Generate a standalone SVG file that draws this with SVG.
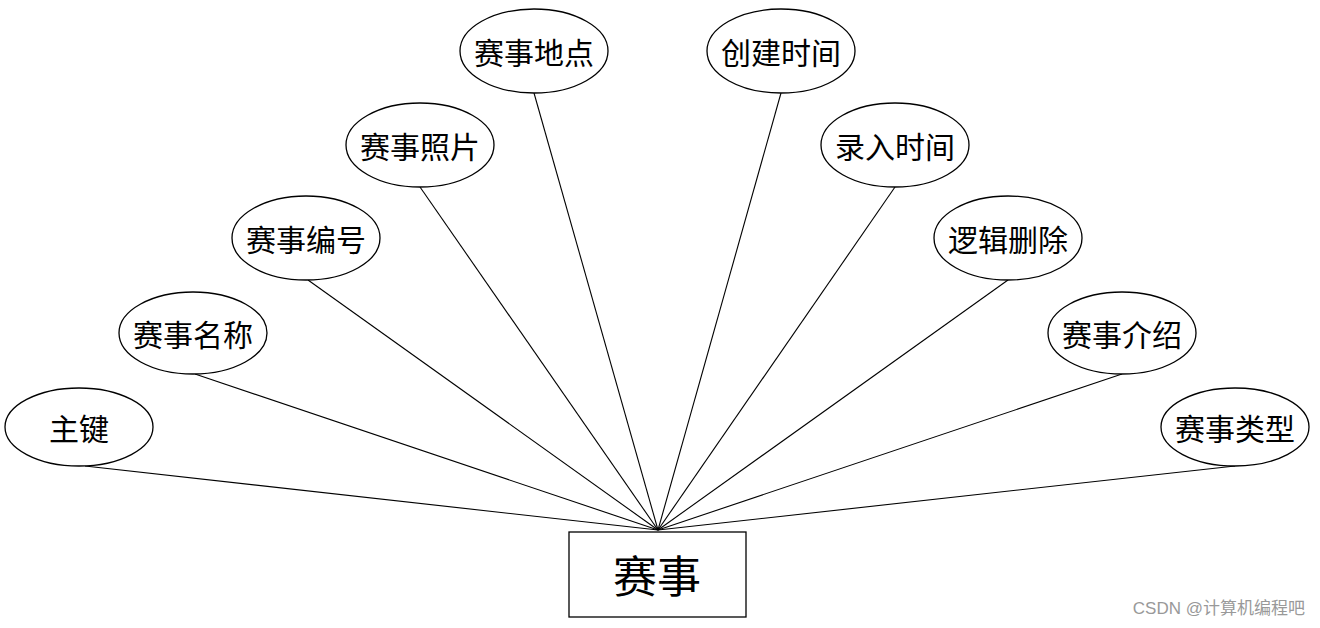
<svg xmlns="http://www.w3.org/2000/svg" width="1320" height="628" viewBox="0 0 1320 628">
<style>
ellipse{fill:#fff;stroke:#000;stroke-width:1.3}
.t{font-family:"Noto Sans CJK SC","Liberation Sans",sans-serif;font-size:30px;text-anchor:middle;dominant-baseline:central;fill:#000}
line{stroke:#000;stroke-width:1.1}
</style>
<rect width="1320" height="628" fill="#fff"/>
<g id="connectors">
<line x1="85" y1="466" x2="658" y2="530"/>
<line x1="195" y1="374" x2="658" y2="530"/>
<line x1="308" y1="280" x2="658" y2="530"/>
<line x1="420" y1="187" x2="658" y2="530"/>
<line x1="534" y1="93" x2="658" y2="530"/>
<line x1="781" y1="93" x2="658" y2="530"/>
<line x1="895" y1="187" x2="658" y2="530"/>
<line x1="1008" y1="280" x2="658" y2="530"/>
<line x1="1122" y1="374" x2="658" y2="530"/>
<line x1="1235" y1="466" x2="658" y2="530"/>
</g>
<g id="n0"><ellipse cx="79" cy="427" rx="74" ry="39"/><text class="t" x="79" y="427">主键</text></g>
<g id="n1"><ellipse cx="193" cy="333" rx="74" ry="41"/><text class="t" x="193" y="333">赛事名称</text></g>
<g id="n2"><ellipse cx="306" cy="238" rx="74" ry="42"/><text class="t" x="306" y="238">赛事编号</text></g>
<g id="n3"><ellipse cx="420" cy="145" rx="74" ry="42"/><text class="t" x="420" y="145">赛事照片</text></g>
<g id="n4"><ellipse cx="534" cy="51" rx="74" ry="42"/><text class="t" x="534" y="51">赛事地点</text></g>
<g id="n5"><ellipse cx="781" cy="51" rx="74" ry="42"/><text class="t" x="781" y="51">创建时间</text></g>
<g id="n6"><ellipse cx="895" cy="145" rx="74" ry="42"/><text class="t" x="895" y="145">录入时间</text></g>
<g id="n7"><ellipse cx="1008" cy="238" rx="74" ry="42"/><text class="t" x="1008" y="238">逻辑删除</text></g>
<g id="n8"><ellipse cx="1122" cy="333" rx="74" ry="41"/><text class="t" x="1122" y="333">赛事介绍</text></g>
<g id="n9"><ellipse cx="1235" cy="427" rx="74" ry="39"/><text class="t" x="1235" y="427">赛事类型</text></g>
<g id="main"><rect x="569" y="532" width="177" height="85" fill="#fff" stroke="#000" stroke-width="1.3"/><text class="t" x="657" y="574" style="font-size:44px">赛事</text></g>
<text x="1305" y="614" font-family="Liberation Sans,Noto Sans CJK SC,sans-serif" font-size="17" fill="#999" text-anchor="end">CSDN @计算机编程吧</text>
</svg>
